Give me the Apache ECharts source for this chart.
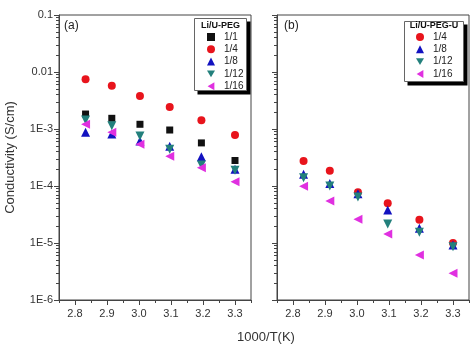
<!DOCTYPE html>
<html><head><meta charset="utf-8">
<script src="https://cdn.jsdelivr.net/npm/echarts@6/dist/echarts.min.js"></script>
<style>html,body{margin:0;padding:0;background:#fff}#c{width:474px;height:355px}</style>
</head><body><div id="c"></div>
<script>
// x: 1000/T (K^-1)
const xValues = [2.833, 2.915, 3.003, 3.096, 3.195, 3.300];
const xTickLabels = [2.8, 2.9, 3.0, 3.1, 3.2, 3.3];
const xMinorTicks = [2.75, 2.85, 2.95, 3.05, 3.15, 3.25, 3.35];
const yTickLabels = ['1E-6', '1E-5', '1E-4', '1E-3', '0.01', '0.1'];
const yMinorMantissas = [2, 3, 4, 5, 6, 7, 8, 9];
const yDecades = [-6, -5, -4, -3, -2];

// Panel (a) Li/U-PEG  conductivity (S/cm)
const a_1_1  = [1.83e-3, 1.54e-3, 1.21e-3, 9.6e-4, 5.7e-4, 2.8e-4];
const a_1_4  = [7.45e-3, 5.75e-3, 3.8e-3, 2.43e-3, 1.42e-3, 7.85e-4];
const a_1_8  = [8.75e-4, 8.2e-4, 6.15e-4, 5.0e-4, 3.27e-4, 1.96e-4];
const a_1_12 = [1.44e-3, 1.14e-3, 7.5e-4, 4.4e-4, 2.34e-4, 1.88e-4];
const a_1_16 = [1.21e-3, 8.75e-4, 5.4e-4, 3.32e-4, 2.1e-4, 1.19e-4];

// Panel (b) Li/U-PEG-U
const b_1_4  = [2.75e-4, 1.85e-4, 7.75e-5, 4.97e-5, 2.56e-5, 1.0e-5];
const b_1_8  = [1.6e-4, 1.11e-4, 7.3e-5, 3.8e-5, 1.81e-5, 9.2e-6];
const b_1_12 = [1.4e-4, 1.0e-4, 6.4e-5, 2.15e-5, 1.54e-5, 8.6e-6];
const b_1_16 = [9.9e-5, 5.46e-5, 2.6e-5, 1.44e-5, 6.15e-6, 2.94e-6];

const namesA = ['1/1', '1/4', '1/8', '1/12', '1/16'];
const namesB = ['1/4', '1/8', '1/12', '1/16'];

// log10 positions of the minor tick marks (decoration axis only)
const yMinorLog = [];
yDecades.forEach(d => yMinorMantissas.forEach(m => yMinorLog.push(d + Math.log10(m))));

const FONT = 'Liberation Sans, Arial, sans-serif';
const AX = '#444';
const sty = {
  '1/1':  {symbol: 'rect', size: 7, color: '#111111'},
  '1/4':  {symbol: 'circle', size: 8, color: '#e8141c'},
  '1/8':  {symbol: 'triangle', size: 9, color: '#1212c0'},
  '1/12': {symbol: 'path://M0,0L2,0L1,1.7Z', size: 9, color: '#23807c'},
  '1/16': {symbol: 'path://M1.7,0L1.7,2L0,1Z', size: 9, color: '#e030e0'}
};

function mk(name, arr, xi, yi) {
  const s = sty[name];
  return {
    type: 'scatter', name: name, xAxisIndex: xi, yAxisIndex: yi,
    symbol: s.symbol, symbolSize: s.size,
    itemStyle: {color: s.color, opacity: 1},
    data: xValues.map((x, i) => [x, arr[i]])
  };
}

function xMain(g) {
  return {
    type: 'value', gridIndex: g, min: 2.75, max: 3.35, position: 'bottom',
    axisLine: {lineStyle: {color: AX, width: 1}},
    axisTick: {customValues: xTickLabels, length: 5, lineStyle: {color: AX}},
    axisLabel: {customValues: xTickLabels, formatter: v => v.toFixed(1), fontSize: 11, color: '#333', fontFamily: FONT, margin: 8},
    splitLine: {show: false}
  };
}
function xMinor(g) {
  return {
    type: 'value', gridIndex: g, min: 2.75, max: 3.35, position: 'bottom',
    axisLine: {show: false},
    axisTick: {customValues: xMinorTicks, length: 3, lineStyle: {color: AX}},
    axisLabel: {show: false},
    splitLine: {show: false}
  };
}
function yAx(g, labels) {
  return {
    type: 'log', logBase: 10, gridIndex: g, min: 1e-6, max: 0.1, position: 'left',
    axisLine: {show: true, lineStyle: {color: AX, width: 1}},
    axisTick: {show: true, length: 5, lineStyle: {color: AX}},
    minorTick: {show: false},
    axisLabel: {show: labels, fontSize: 11, color: '#333', fontFamily: FONT, margin: 6,
      formatter: v => yTickLabels[Math.round(Math.log10(v)) + 6]},
    splitLine: {show: false},
    name: labels ? 'Conductivity (S/cm)' : '',
    nameLocation: 'middle', nameGap: 42,
    nameTextStyle: {fontSize: 13, color: '#333', fontFamily: FONT}
  };
}
function yMinor(g) {
  return {
    type: 'value', gridIndex: g, min: -6, max: -1, position: 'left',
    axisLine: {show: false},
    axisTick: {customValues: yMinorLog, length: 3, lineStyle: {color: AX}},
    axisLabel: {show: false},
    splitLine: {show: false}
  };
}

const option = {
  animation: false,
  backgroundColor: '#fff',
  grid: [
    {left: 59, top: 15, width: 192, height: 285, show: true, borderColor: AX, borderWidth: 1, containLabel: false},
    {left: 277, top: 15, width: 192, height: 285, show: true, borderColor: AX, borderWidth: 1, containLabel: false}
  ],
  xAxis: [xMain(0), xMinor(0), xMain(1), xMinor(1)],
  yAxis: [yAx(0, true), yAx(1, false), yMinor(0), yMinor(1)],
  legend: [
    {data: namesA, orient: 'vertical', left: 207, top: 32, itemWidth: 8, itemHeight: 8, itemGap: 2.3,
     padding: 0, selectedMode: false, z: 100,
     textStyle: {fontSize: 10, color: '#222', fontFamily: FONT, padding: [0, 0, 0, 4]}},
    {data: namesB, orient: 'vertical', left: 416, top: 32, itemWidth: 8, itemHeight: 8, itemGap: 2.3,
     padding: 0, selectedMode: false, z: 100,
     textStyle: {fontSize: 10, color: '#222', fontFamily: FONT, padding: [0, 0, 0, 4]}}
  ],
  graphic: [
    {type: 'rect', z: 90, shape: {x: 197.5, y: 21.5, width: 53, height: 73}, style: {fill: '#000'}},
    {type: 'rect', z: 91, shape: {x: 194.5, y: 18.5, width: 52, height: 72}, style: {fill: '#fff', stroke: '#666', lineWidth: 1}},
    {type: 'text', z: 92, style: {x: 220.5, y: 26, text: 'Li/U-PEG', fill: '#111', font: 'bold 9px ' + FONT, textAlign: 'center', textVerticalAlign: 'middle'}},
    {type: 'rect', z: 90, shape: {x: 407.5, y: 24.5, width: 60, height: 61}, style: {fill: '#000'}},
    {type: 'rect', z: 91, shape: {x: 404.5, y: 21.5, width: 59, height: 60}, style: {fill: '#fff', stroke: '#666', lineWidth: 1}},
    {type: 'text', z: 92, style: {x: 434, y: 26, text: 'Li/U-PEG-U', fill: '#111', font: 'bold 9px ' + FONT, textAlign: 'center', textVerticalAlign: 'middle'}},
    {type: 'text', z: 92, style: {x: 64, y: 26, text: '(a)', fill: '#222', font: '12px ' + FONT, textAlign: 'left', textVerticalAlign: 'middle'}},
    {type: 'text', z: 92, style: {x: 284, y: 26, text: '(b)', fill: '#222', font: '12px ' + FONT, textAlign: 'left', textVerticalAlign: 'middle'}},
    {type: 'text', z: 92, style: {x: 266, y: 337, text: '1000/T(K)', fill: '#333', font: '13px ' + FONT, textAlign: 'center', textVerticalAlign: 'middle'}}
  ],
  series: [
    mk('1/1', a_1_1, 0, 0), mk('1/4', a_1_4, 0, 0), mk('1/8', a_1_8, 0, 0), mk('1/12', a_1_12, 0, 0), mk('1/16', a_1_16, 0, 0),
    mk('1/4', b_1_4, 2, 1), mk('1/8', b_1_8, 2, 1), mk('1/12', b_1_12, 2, 1), mk('1/16', b_1_16, 2, 1)
  ]
};
const chart = echarts.init(document.getElementById('c'), null, {renderer: 'canvas'});
chart.setOption(option);
</script></body></html>
